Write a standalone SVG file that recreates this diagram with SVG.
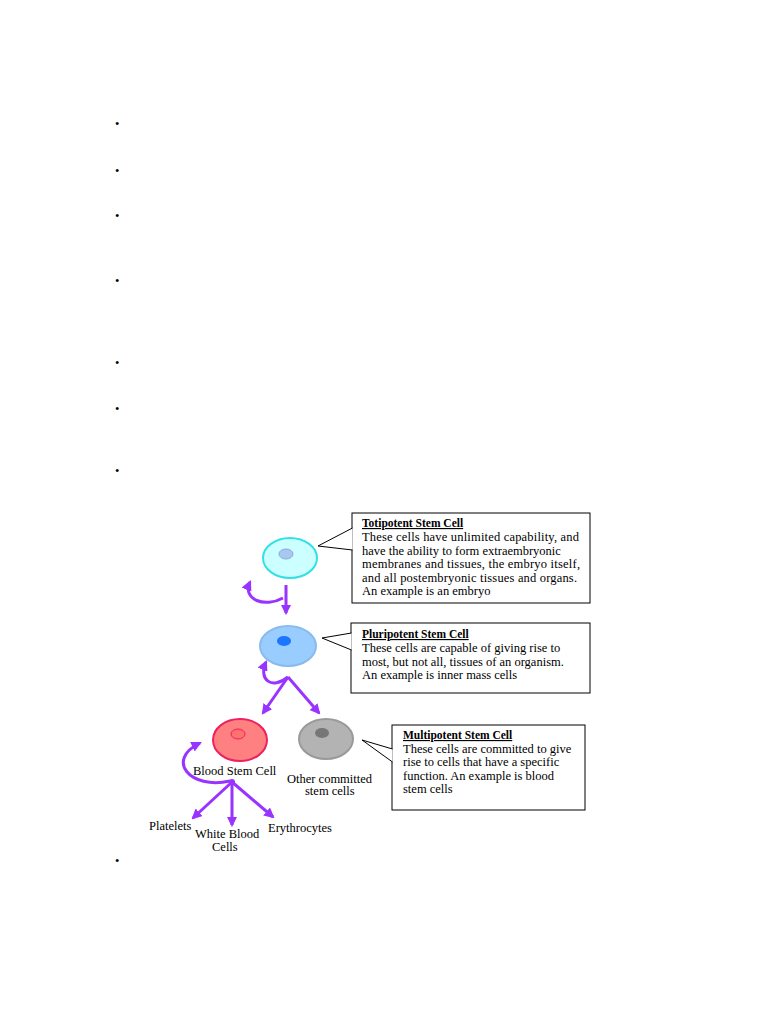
<svg xmlns="http://www.w3.org/2000/svg" width="768" height="1024" viewBox="0 0 768 1024">
<style>
text{font-family:"Liberation Serif",serif;font-size:12.5px;fill:#000}
.t{font-weight:bold;text-decoration:underline;font-size:11.5px}
.box{fill:#fff;stroke:#000;stroke-width:1}
.a{fill:none;stroke:#9933ff;stroke-width:3}
.b{font-family:"Liberation Sans",sans-serif;font-size:14px}
</style>
<defs><marker id="h" viewBox="0 0 10 10" refX="8" refY="5" markerWidth="3.5" markerHeight="3.5" orient="auto"><path d="M0,0L10,5L0,10z" fill="#9933ff"/></marker></defs>
<rect width="768" height="1024" fill="#fff"/>
<g id="bullets" class="b">
<text x="115" y="128">•</text><text x="115" y="175">•</text><text x="115" y="220">•</text><text x="115" y="285">•</text><text x="115" y="367">•</text><text x="115" y="413">•</text><text x="115" y="475">•</text><text x="115" y="865">•</text>
</g>
<g id="toti">
<ellipse cx="290" cy="558" rx="27" ry="20" fill="#ccffff" stroke="#33e0e8" stroke-width="2"/>
<ellipse cx="286" cy="554" rx="7" ry="5" fill="#a8c8f0" stroke="#88aadd"/>
</g>
<g id="toti-box">
<rect class="box" x="352" y="513" width="238" height="90"/>
<path d="M352.5,528L318,546L352.5,550" fill="#fff" stroke="#000"/>
<text x="362" y="527" class="t">Totipotent Stem Cell</text>
<text x="362" y="541" textLength="217">These cells have unlimited capability, and</text>
<text x="362" y="555">have the ability to form extraembryonic</text>
<text x="362" y="568" textLength="218">membranes and tissues, the embryo itself,</text>
<text x="362" y="582" textLength="215">and all postembryonic tissues and organs.</text>
<text x="362" y="595">An example is an embryo</text>
</g>
<g id="pluri">
<ellipse cx="288" cy="646" rx="28" ry="20" fill="#99ccff" stroke="#88bbee" stroke-width="2"/>
<ellipse cx="284" cy="641" rx="7" ry="5" fill="#1a75ff"/>
</g>
<g id="pluri-box">
<rect class="box" x="351" y="623" width="239" height="70"/>
<path d="M351.5,633L322,638L351.5,650" fill="#fff" stroke="#000"/>
<text x="362" y="638" class="t">Pluripotent Stem Cell</text>
<text x="362" y="652">These cells are capable of giving rise to</text>
<text x="362" y="666">most, but not all, tissues of an organism.</text>
<text x="362" y="679">An example is inner mass cells</text>
</g>
<g id="blood">
<ellipse cx="240" cy="740" rx="27" ry="21" fill="#ff8080" stroke="#ee2060" stroke-width="2"/>
<ellipse cx="238" cy="734" rx="7" ry="5" fill="#ff7070" stroke="#ee2060"/>
<text x="193" y="775">Blood Stem Cell</text>
</g>
<g id="other">
<ellipse cx="326" cy="739" rx="27" ry="20" fill="#b3b3b3" stroke="#9a9a9a" stroke-width="2"/>
<ellipse cx="322" cy="733" rx="7" ry="5" fill="#777"/>
<text x="287" y="783" font-size="11">Other committed</text>
<text x="305" y="795" font-size="11">stem cells</text>
</g>
<g id="multi-box">
<rect class="box" x="392" y="725" width="193" height="85"/>
<path d="M392.5,749L362,740L392.5,762" fill="#fff" stroke="#000"/>
<text x="403" y="739" class="t">Multipotent Stem Cell</text>
<text x="403" y="753">These cells are committed to give</text>
<text x="403" y="766">rise to cells that have a specific</text>
<text x="403" y="780">function.  An example is blood</text>
<text x="403" y="793">stem cells</text>
</g>
<g id="leaves">
<text x="149" y="830">Platelets</text>
<text x="195" y="838">White Blood</text>
<text x="212" y="851">Cells</text>
<text x="268" y="832">Erythrocytes</text>
</g>
<g id="connectors">
<path class="a" d="M286,585V613" marker-end="url(#h)"/>
<path class="a" d="M283,598C265,608 242,600 250,582" marker-end="url(#h)"/>
<path class="a" d="M288,677L263,713" marker-end="url(#h)"/>
<path class="a" d="M288,677L319,713" marker-end="url(#h)"/>
<path class="a" d="M288,677C272,690 258,680 266,662" marker-end="url(#h)"/>
<path class="a" d="M230,781C190,790 165,760 200,743" marker-end="url(#h)"/>
<path class="a" d="M232,782L193,818" marker-end="url(#h)"/>
<path class="a" d="M232,782V825" marker-end="url(#h)"/>
<path class="a" d="M232,782L273,817" marker-end="url(#h)"/>
<circle cx="232" cy="782" r="3" fill="#9933ff"/>
</g>
</svg>
